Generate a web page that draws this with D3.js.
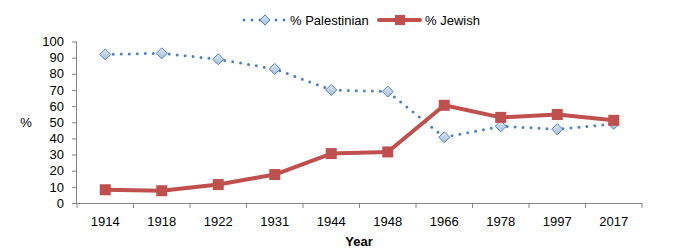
<!DOCTYPE html>
<html><head><meta charset="utf-8">
<script src="https://cdn.jsdelivr.net/npm/d3@7"></script>
<style>
html,body{margin:0;padding:0;background:#fff;}
svg{display:block;font-family:"Liberation Sans",Arial,sans-serif;}
</style></head>
<body><svg id="c" width="685" height="248"></svg>
<script>
const years = ["1914","1918","1922","1931","1944","1948","1966","1978","1997","2017"];
const palestinian = [92, 92.7, 89, 83, 70, 69, 40.7, 47.5, 45.7, 49];
const jewish = [8.2, 7.6, 11.4, 17.6, 30.6, 31.6, 60.5, 53, 54.8, 51.2];
const yTicks = [0,10,20,30,40,50,60,70,80,90,100];

(function(){
const svg = d3.select("#c");
const mLeft = 77, mRight = 642, mTop = 41.5, mBottom = 203;
const x = d3.scaleBand().domain(years).range([mLeft, mRight]);
const y = d3.scaleLinear().domain([0, 100]).range([mBottom, mTop]);
const axisColor = "#868686";

const ya = svg.append("g").attr("transform", `translate(${mLeft},0)`)
  .call(d3.axisLeft(y).tickValues(yTicks).tickSize(5).tickPadding(8));
ya.select(".domain").attr("stroke", axisColor).attr("d", `M-0.5,${mBottom}V${mTop}`);
ya.selectAll(".tick line").attr("stroke", axisColor);
ya.selectAll(".tick text").attr("font-size", 13).attr("fill", "#000")
  .attr("font-family", "Liberation Sans, Arial, sans-serif");

const xa = svg.append("g").attr("transform", `translate(0,${mBottom})`)
  .call(d3.axisBottom(x).tickSize(0).tickPadding(14));
xa.select(".domain").attr("stroke", axisColor).attr("d", `M${mLeft},0.5H${mRight}`);
xa.selectAll(".tick text").attr("font-size", 13).attr("fill", "#000")
  .attr("font-family", "Liberation Sans, Arial, sans-serif");
const bounds = years.map(d => x(d)).concat([mRight]);
svg.append("g").selectAll("line").data(bounds).join("line")
  .attr("x1", d => d).attr("x2", d => d)
  .attr("y1", mBottom).attr("y2", mBottom + 5)
  .attr("stroke", axisColor);

svg.append("text").attr("x", 26).attr("y", 127).attr("text-anchor", "middle")
  .attr("font-size", 13).text("%");
svg.append("text").attr("x", 359).attr("y", 246).attr("text-anchor", "middle")
  .attr("font-size", 13).attr("font-weight", "bold").text("Year");

const cx = d => x(d) + x.bandwidth() / 2;
const blue = "#4F81BD", red = "#C0504D";

const defs = svg.append("defs");
const g = defs.append("linearGradient").attr("id", "dg").attr("x1", 0).attr("y1", 0).attr("x2", 0).attr("y2", 1);
g.append("stop").attr("offset", "0%").attr("stop-color", "#DCE6F2");
g.append("stop").attr("offset", "100%").attr("stop-color", "#A7BFDE");

const lineP = d3.line().x((d, i) => cx(years[i])).y(d => y(d));
svg.append("path").datum(palestinian).attr("d", lineP)
  .attr("fill", "none").attr("stroke", blue).attr("stroke-width", 3)
  .attr("stroke-linecap", "round").attr("stroke-dasharray", "0 8");

svg.append("path").datum(jewish).attr("d", lineP)
  .attr("fill", "none").attr("stroke", red).attr("stroke-width", 4)
  .attr("stroke-linejoin", "round");

const diamond = (px, py, r) => `M${px},${py - r}L${px + r},${py}L${px},${py + r}L${px - r},${py}Z`;

svg.append("g").selectAll("path").data(palestinian).join("path")
  .attr("d", (d, i) => diamond(cx(years[i]), y(d), 5.5))
  .attr("fill", "url(#dg)").attr("stroke", blue).attr("stroke-width", 1);

svg.append("g").selectAll("rect").data(jewish).join("rect")
  .attr("x", (d, i) => cx(years[i]) - 5.5).attr("y", d => y(d) - 5.5)
  .attr("width", 11).attr("height", 11).attr("fill", red);

const ly = 20;
svg.append("line").attr("x1", 244).attr("x2", 286).attr("y1", ly).attr("y2", ly)
  .attr("stroke", blue).attr("stroke-width", 3).attr("stroke-linecap", "round").attr("stroke-dasharray", "0 8");
svg.append("path").attr("d", diamond(265, ly, 5)).attr("fill", "url(#dg)").attr("stroke", blue);
svg.append("text").attr("x", 290).attr("y", ly + 4.5).attr("font-size", 13).text("% Palestinian");
svg.append("line").attr("x1", 379).attr("x2", 420).attr("y1", ly).attr("y2", ly)
  .attr("stroke", red).attr("stroke-width", 4).attr("stroke-linecap", "round");
svg.append("rect").attr("x", 395).attr("y", ly - 5).attr("width", 10).attr("height", 10).attr("fill", red);
svg.append("text").attr("x", 425).attr("y", ly + 4.5).attr("font-size", 13).text("% Jewish");
})();
</script></body></html>
